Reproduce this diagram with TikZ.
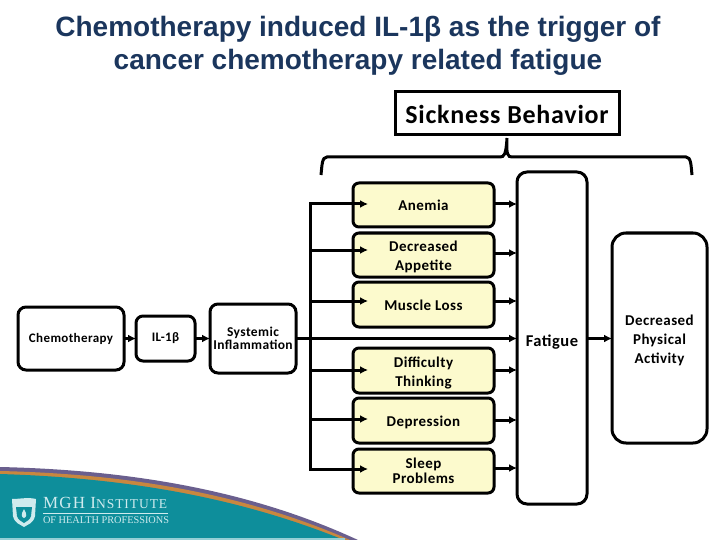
\documentclass[tikz,border=0pt]{standalone}
\usepackage{fontspec}
\setmainfont[LetterSpace=3]{Carlito}
\newfontfamily\titlefont{Liberation Sans}
\newfontfamily\logofont{Liberation Serif}
\newfontfamily\mghfont[LetterSpace=7]{Liberation Serif}
\usetikzlibrary{arrows.meta,positioning,calc}
\definecolor{boxyellow}{HTML}{FCFACD}
\definecolor{titleblue}{HTML}{1B365D}
\definecolor{logoteal}{HTML}{0E8E9B}
\definecolor{logoorange}{HTML}{C8873F}
\definecolor{logopurple}{HTML}{6A5F8E}
\definecolor{logotext}{HTML}{CFEBEE}
\newcommand{\lowered}[2][2pt]{\raisebox{-#1}[\height][\depth]{\begin{tabular}{@{}c@{}}#2\end{tabular}}}
\begin{document}
\begin{tikzpicture}[
        x=1pt, y=-1pt,
        every node/.style={inner sep=0pt, outer sep=0pt},
        box/.style={rectangle, rounded corners=6pt, draw=black, line width=3pt, fill=white, align=center, font=\fontsize{15}{19}\selectfont\bfseries, anchor=north west},
        sympt/.style={box, fill=boxyellow, minimum width=141pt},
        arrow/.style={-{Latex[length=8pt,width=8pt]}, line width=3pt},
        trunk/.style={line width=3pt}
    ]
        \useasboundingbox (0,0) rectangle (720,540);

        % footer band
        \fill[logopurple] (0,467) .. controls (130,470) and (250,490) .. (358,540) -- (0,540) -- cycle;
        \fill[logoorange] (0,471) .. controls (130,474) and (245,494) .. (350,540) -- (0,540) -- cycle;
        \fill[logoteal] (0,474) .. controls (130,478) and (240,498) .. (344,540) -- (0,540) -- cycle;
        \fill[logotext!70!logoteal] (0,538) rectangle (345,540);
        \fill[logotext] (12,499) .. controls (20,499) and (28,497) .. (36,499) -- (35,516) .. controls (33,524) and (28,524) .. (24,527) .. controls (20,524) and (15,524) .. (13,516) -- cycle;
        \fill[logoteal] (16,507) -- (32,507) -- (31,516) .. controls (30,520) and (27,521) .. (24,523) .. controls (21,521) and (18,520) .. (17,516) -- cycle;
        \fill[logotext] (24,509) .. controls (21,514) and (21,517) .. (24,518) .. controls (27,517) and (27,514) .. (24,509) -- cycle;
        \node[text=logotext, font=\mghfont\fontsize{17}{17}\selectfont, anchor=west] (mgh) at (43,503) {MGH I\fontsize{13.5}{13.5}\selectfont NSTITUTE};
        \node[text=logotext, font=\logofont\fontsize{10.3}{10.3}\selectfont, anchor=west] (prof) at (43,520) {OF HEALTH PROFESSIONS};
        \draw[logotext, line width=0.5pt] (43,513) -- (168,513);

        % title
        \node[text=titleblue, align=center, font=\titlefont\fontsize{28}{33}\selectfont\bfseries] (title) at (358,46) {Chemotherapy induced IL-1β as the trigger of\\cancer chemotherapy related fatigue};

        % boxes
        \node[box, rounded corners=0pt, minimum width=224pt, minimum height=43pt, font=\fontsize{26}{26}\selectfont\bfseries] (sick) at (395,92) {\lowered[5pt]{Sickness Behavior}};
        \node[sympt, minimum height=44pt] (anemia) at (353,183) {\lowered{Anemia}};
        \node[sympt, minimum height=44pt] (appetite) at (353,233) {\lowered{Decreased\\Appetite}};
        \node[sympt, minimum height=45pt] (muscle) at (353,282) {\lowered{Muscle Loss}};
        \node[sympt, minimum height=45pt] (thinking) at (353,348) {\lowered[3pt]{Difficulty\\Thinking}};
        \node[sympt, minimum height=45pt] (depress) at (353,398) {\lowered{Depression}};
        \node[sympt, minimum height=44pt, font=\fontsize{15}{15}\selectfont\bfseries] (sleep) at (353,449) {Sleep\\Problems};
        \node[box, rounded corners=10pt, minimum width=70pt, minimum height=332pt, font=\fontsize{16.5}{16.5}\selectfont\bfseries] (fatigue) at (517,172) {\lowered[5pt]{Fatigue}};
        \node[box, rounded corners=14pt, minimum width=95pt, minimum height=210pt] (activity) at (612,233) {\lowered[3pt]{Decreased\\Physical\\Activity}};
        \node[box, rounded corners=8pt, minimum width=106pt, minimum height=63pt, font=\fontsize{13}{14}\selectfont\bfseries] (chemo) at (18,307) {Chemotherapy};
        \node[box, rounded corners=7pt, minimum width=59pt, minimum height=45pt, font=\fontsize{13}{14}\selectfont\bfseries] (il) at (136,316) {IL-1β};
        \node[box, rounded corners=8pt, minimum width=86pt, minimum height=69pt, font=\fontsize{13.5}{13}\selectfont\bfseries] (infl) at (210,304) {Systemic\\Inflammation};

        % brace
        \coordinate (bl) at (321,175);
        \coordinate (br) at (692,175);
        \coordinate (btip) at ($(sick.south)+(0,3)$);
        \draw[line width=3pt] (bl) .. controls (322,165) and (322,157) .. (327,157) -- (500,157) .. controls (504,157) and (506,155) .. (btip) .. controls (506,155) and (508,157) .. (512,157) -- (686,157) .. controls (691,157) and (691,165) .. (br);

        % chain
        \draw[arrow] (chemo) -- (il);
        \draw[arrow] (il) -- (infl);
        \draw[arrow] (infl) -- (fatigue.west |- infl);
        \draw[arrow] (fatigue.east |- infl) -- (activity.west |- infl);

        % fan to the symptoms
        \foreach \name/\ypos in {anemia/204, appetite/250, muscle/301, thinking/370, depress/419, sleep/469} {
            \coordinate (in-\name) at (310,\ypos);
            \draw[arrow] (in-\name) -- (368,\ypos);
        }
        \draw[trunk, line cap=rect] (in-anemia) -- (in-sleep);

        % symptoms to fatigue
        \foreach \name/\ypos in {anemia/204, appetite/253, muscle/301, thinking/370, depress/420, sleep/468} {
            \draw[arrow] (\name.east |- 0,\ypos) -- (fatigue.west |- 0,\ypos);
        }
    \end{tikzpicture}
\end{document}
